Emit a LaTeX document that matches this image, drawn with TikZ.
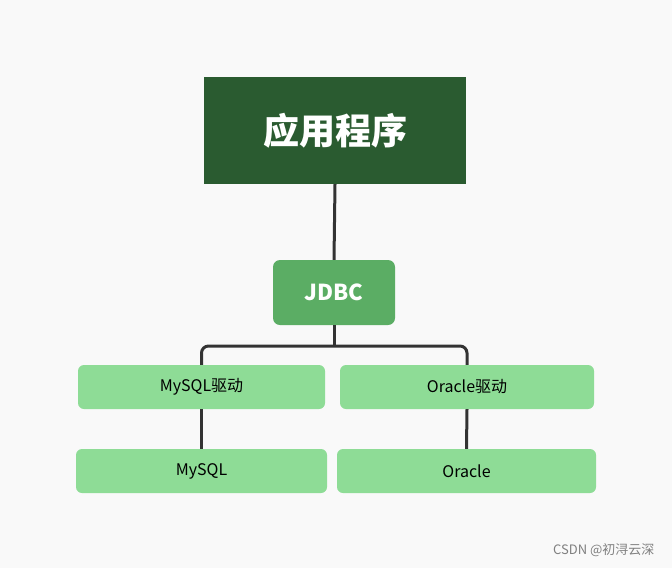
\documentclass[tikz,border=0pt]{standalone}
\usepackage{fontspec}
\setmainfont{Noto Sans CJK SC}
\definecolor{bg}{HTML}{F9F9F9}
\definecolor{dk}{HTML}{2A5B30}
\definecolor{md}{HTML}{5BAD64}
\definecolor{lt}{HTML}{8EDC96}
\definecolor{ln}{HTML}{333333}
\begin{document}
\begin{tikzpicture}[x=1pt,y=-1pt,
  leaf/.style={fill=lt,rounded corners=6pt,minimum height=44pt,font=\fontsize{16}{18}\selectfont,text=black},
  conn/.style={draw=ln,line width=3pt,rounded corners=7pt}]
\fill[bg] (0,0) rectangle (672,568);
\useasboundingbox (0,0) rectangle (672,568);
\node[fill=dk,minimum width=262pt,minimum height=107pt,text=white,font=\fontsize{36}{40}\selectfont\bfseries] (app) at (335,130.5) {应用程序};
\node[fill=md,rounded corners=7pt,minimum width=122pt,minimum height=65pt,text=white,font=\fontsize{22}{26}\selectfont\bfseries] (jdbc) at (334,292.5) {JDBC};
\node[leaf,minimum width=247pt] (md) at (201.5,387) {MySQL驱动};
\node[leaf,minimum width=254pt] (od) at (467,387) {Oracle驱动};
\node[leaf,minimum width=251pt] (m) at (201.5,471) {MySQL};
\node[leaf,minimum width=259pt] (o) at (466.5,471) {Oracle};
\draw[conn] (app.south) -- (jdbc.north);
\draw[conn] (md.north) |- (334,346) -| (od.north);
\draw[conn] (jdbc.south) -- (334,346);
\draw[conn] (md.south) -- (m.north);
\draw[conn] (od.south) -- (o.north);
\node[text=gray,font=\fontsize{13}{15}\selectfont,anchor=east] (wm) at (658,550) {CSDN @初浔云深};
\end{tikzpicture}
\end{document}
